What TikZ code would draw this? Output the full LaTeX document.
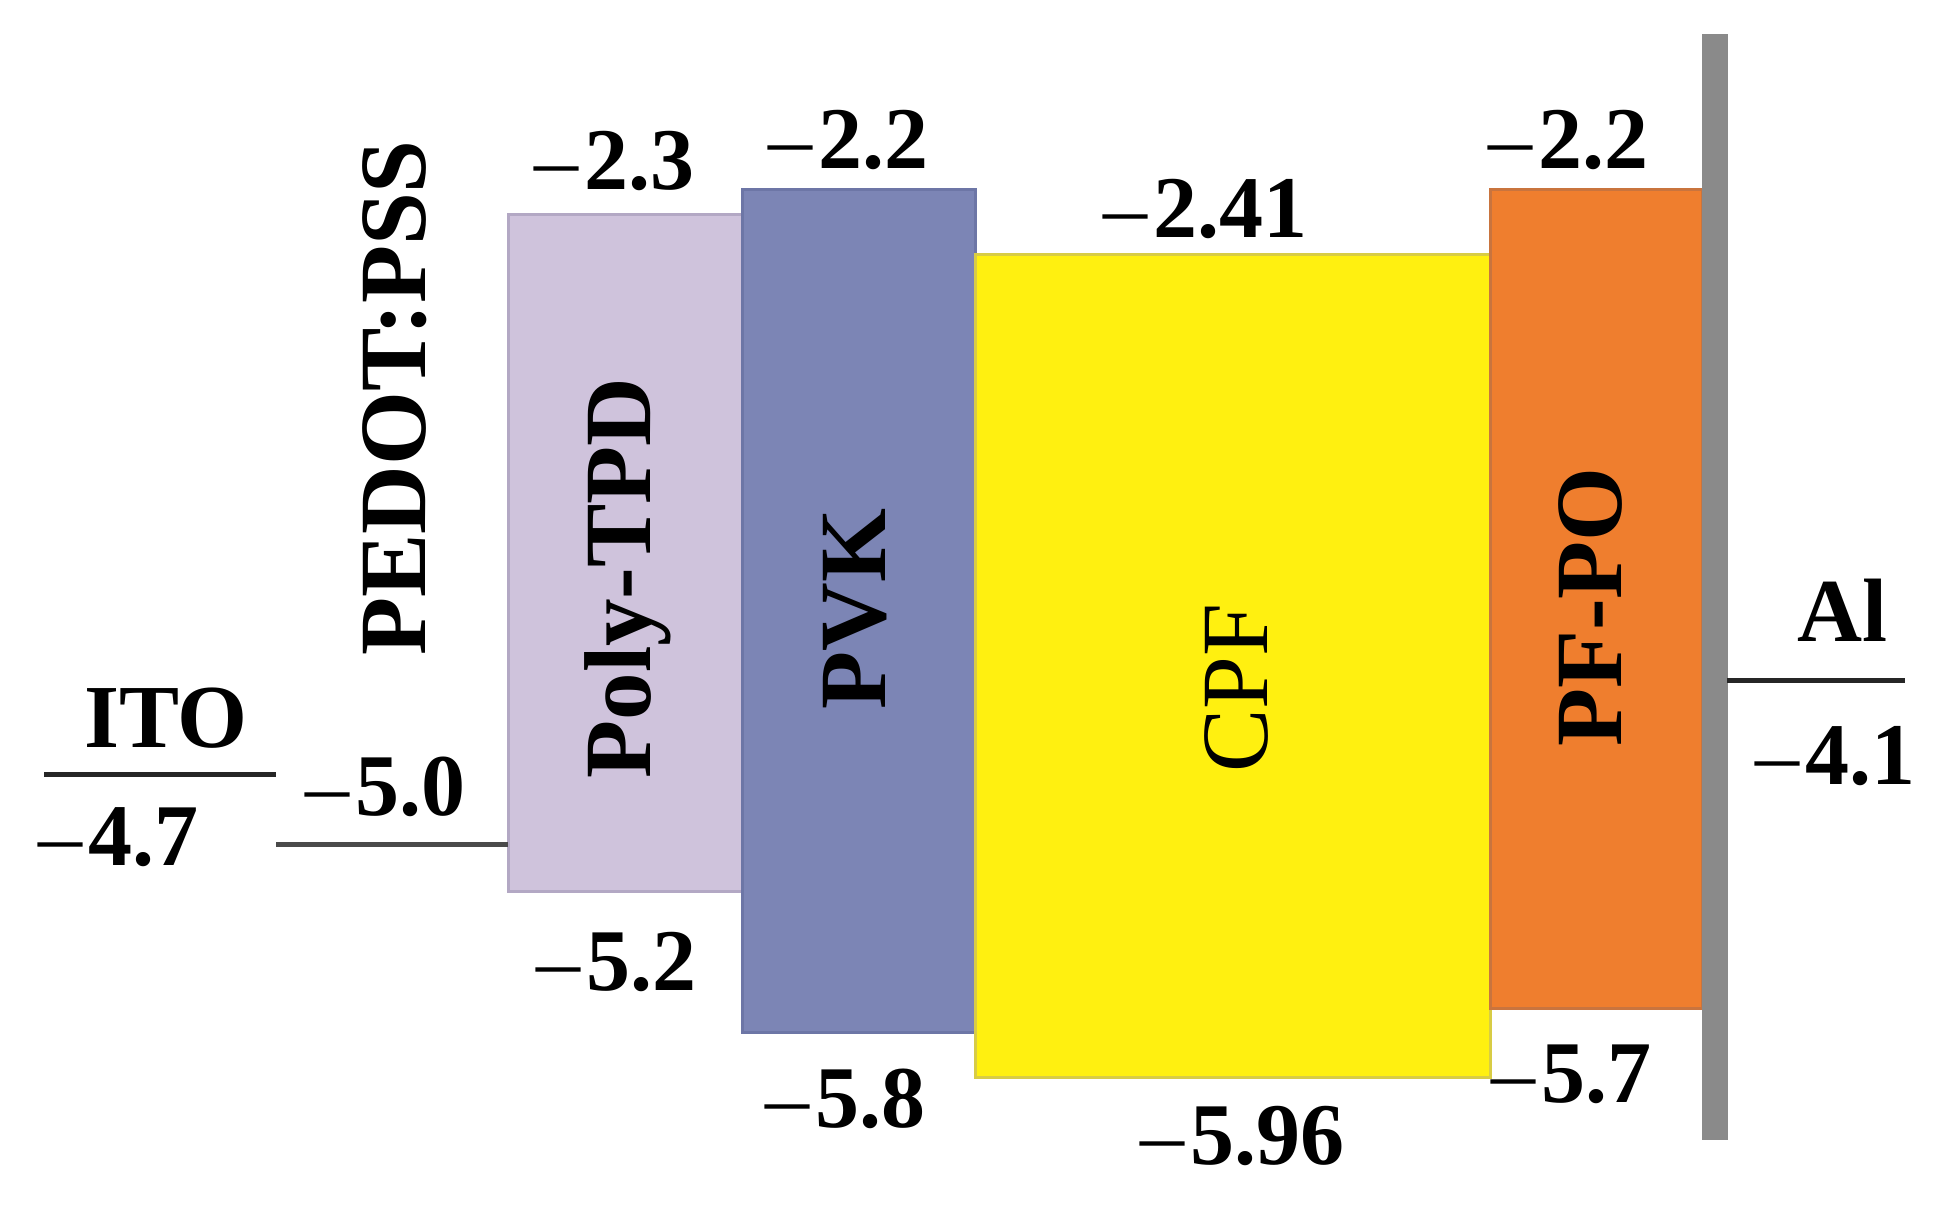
\documentclass[tikz,border=0pt]{standalone}
\usepackage{fontspec}
\setmainfont{Liberation Serif}
\definecolor{tpdfill}{HTML}{CFC3DC}
\definecolor{tpdline}{HTML}{B3A8C4}
\definecolor{pvkfill}{HTML}{7C85B5}
\definecolor{pvkline}{HTML}{6D76A6}
\definecolor{cpffill}{HTML}{FFF010}
\definecolor{cpfline}{HTML}{D8CC45}
\definecolor{pffill}{HTML}{EF7E2E}
\definecolor{pfline}{HTML}{C9743E}
\definecolor{algray}{HTML}{8A8A8A}
\definecolor{levelgray}{HTML}{4A4A4A}
\newcommand\mydash{{\mdseries –}\kern6pt}
\begin{document}
\begin{tikzpicture}[x=1pt,y=-1pt,
  layer/.style={draw, line width=3pt, inner sep=0pt, outer sep=0pt, anchor=north west},
  num/.style={font=\fontsize{88}{88}\selectfont\bfseries, inner sep=0pt, anchor=base},
  lbl/.style={font=\fontsize{95}{95}\selectfont\bfseries, inner sep=0pt, rotate=90},
  elec/.style={font=\fontsize{90}{90}\selectfont\bfseries, inner sep=0pt, anchor=base},
  level/.style={line width=5pt}]
\useasboundingbox (0,0) rectangle (1952,1211);
% layers
\node[layer, fill=tpdfill, draw=tpdline, minimum width=234pt, minimum height=677pt] (tpd) at (508,214) {};
\node[layer, fill=pvkfill, draw=pvkline, minimum width=233pt, minimum height=843pt] (pvk) at (742,189) {};
\node[layer, fill=cpffill, draw=cpfline, minimum width=515pt, minimum height=823pt] (cpf) at (975,254) {};
\node[layer, fill=pffill, draw=pfline, minimum width=212pt, minimum height=819pt] (pfpo) at (1490,189) {};
\node[layer, fill=algray, draw=algray, line width=1pt, minimum width=25pt, minimum height=1105pt] (al) at (1702,34) {};
% electrode levels
\coordinate (itoL) at (44,774);
\coordinate (itoR) at (276,774);
\draw[level, black!85] (itoL) -- (itoR);
\coordinate (pedL) at (276,844);
\draw[level, levelgray] (pedL) -- (pedL -| tpd.west);
\coordinate (alR) at (1905,680);
\draw[level, black!85] (al.east |- alR) -- (alR);
% layer labels
\node[lbl] (tpdlbl) at (628,578) {Poly-TPD};
\node[lbl] (pvklbl) at (855,609) {PVK};
\node[lbl, font=\fontsize{95}{95}\selectfont] (cpflbl) at (1236,688) {CPF};
\node[lbl] (pflbl) at (1590,607) {PF-PO};
\node[lbl] (pedlbl) at (395,398) {PEDOT:PSS};
% electrode labels
\node[elec] (itolbl) at (166,747) {ITO};
\node[elec] (allbl) at (1842,641) {Al};
% numbers
\node[num] (n47) at (118,865) {\mydash4.7};
\node[num] (n50) at (385,815) {\mydash5.0};
\node[num] (n23) at (614,189) {\mydash2.3};
\node[num] (n22a) at (848,168) {\mydash2.2};
\node[num] (n241) at (1205,237) {\mydash2.41};
\node[num] (n22b) at (1568,168) {\mydash2.2};
\node[num] (n52) at (616,990) {\mydash5.2};
\node[num] (n58) at (845,1127) {\mydash5.8};
\node[num] (n596) at (1242,1164) {\mydash5.96};
\node[num] (n57) at (1571,1102) {\mydash5.7};
\node[num] (n41) at (1835,784) {\mydash4.1};
\end{tikzpicture}
\end{document}
